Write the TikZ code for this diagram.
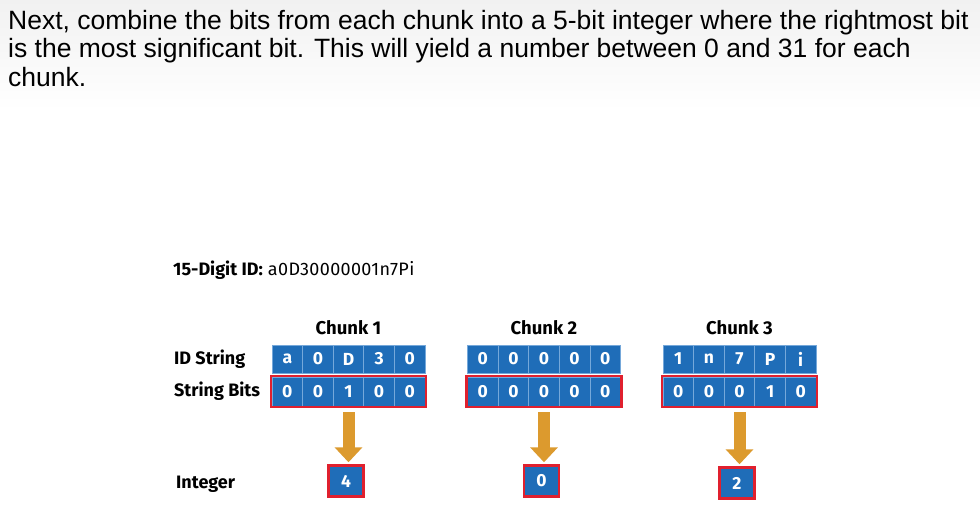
\documentclass[tikz,border=0pt]{standalone}
\usepackage{fontspec}
\setmainfont{Liberation Sans}
\newfontfamily\labelfont{Fira Sans}
\usetikzlibrary{arrows.meta,positioning,fit}
\definecolor{cellblue}{HTML}{1F6DB8}
\definecolor{celledge}{HTML}{75A8DA}
\definecolor{bitred}{HTML}{E0202E}
\definecolor{arrowgold}{HTML}{DC9A2E}
\definecolor{headgray}{HTML}{F1F1F1}

\begin{document}
\begin{tikzpicture}[x=1pt, y=-1pt,
  cell/.style={fill=cellblue, draw=celledge, line width=0.8pt, minimum width=30.6pt, minimum height=28pt, inner sep=0pt, text=white, font=\labelfont\bfseries\fontsize{17.5}{17.5}\selectfont},
  bitframe/.style={draw=bitred, line width=2.4pt, inner sep=0.6pt},
  intbox/.style={cell, draw=bitred, line width=2.4pt, minimum width=35pt, minimum height=31pt},
  rowlabel/.style={anchor=west, inner sep=0pt, font=\labelfont\bfseries\fontsize{18}{18}\selectfont},
  chunklabel/.style={inner sep=0pt, font=\labelfont\bfseries\fontsize{18.5}{18.5}\selectfont},
  goldarrow/.style={draw=arrowgold, line width=12pt, -{Triangle[length=15pt, width=27pt]}, shorten <=4pt, shorten >=2pt}
]
\useasboundingbox (0,0) rectangle (980,510);
\fill[top color=headgray, bottom color=white] (0,0) rectangle (980,110);

\node[anchor=north west, inner sep=0pt, align=left, font=\fontsize{26.5}{28.5}\selectfont] (intro) at (8,10)
  {Next, combine the bits from each chunk into a 5-bit integer where the rightmost bit\\
   is the most significant bit. This will yield a number between 0 and 31 for each\\
   chunk.};

\node[rowlabel] (digitid) at (173,270) {15-Digit ID:\mdseries\addfontfeature{LetterSpace=2}{} a0D30000001n7Pi};
\node[rowlabel] (idlabel) at (174,359) {ID String};
\node[rowlabel] (bitslabel) at (174,391) {String Bits};
\node[rowlabel] (intlabel) at (176,484) {Integer};

% one block per chunk: id characters, their bits, the integer
\foreach \c/\x/\idtext/\bittext/\val/\vy in {
    1/272/{a,0,D,3,0}/{0,0,1,0,0}/4/481,
    2/467.5/{0,0,0,0,0}/{0,0,0,0,0}/0/481,
    3/663/{1,n,7,P,i}/{0,0,0,1,0}/2/483} {
  \foreach \ch [count=\j] in \idtext
    \node[cell] (id-\c-\j) at ({\x+15.3+30.6*(\j-1)},359) {\ch};
  \foreach \b [count=\j] in \bittext
    \node[cell, minimum height=29pt] (bit-\c-\j) at ({\x+15.3+30.6*(\j-1)},391.5) {\b};
  \node[bitframe, fit=(bit-\c-1)(bit-\c-5)] (frame-\c) {};
  \node[chunklabel, above=10pt of id-\c-3] (chunk-\c) {Chunk \c};
  \node[intbox] (int-\c) at ({\x+74},\vy) {\val};
  \draw[goldarrow] (frame-\c.south) -- (frame-\c.south |- int-\c.north);
}
\end{tikzpicture}
\end{document}
